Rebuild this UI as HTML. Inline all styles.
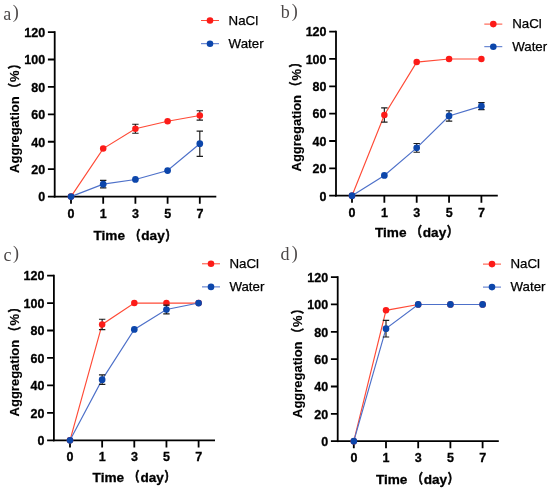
<!DOCTYPE html>
<html><head><meta charset="utf-8"><title>Aggregation</title>
<style>
html,body{margin:0;padding:0;background:#fff;}
svg{display:block;}
text{font-family:"Liberation Sans","Noto Sans CJK SC",sans-serif;fill:#000;stroke:#000;stroke-width:0.3px;}
.tk{font-size:12.5px;font-weight:bold;}
.al{font-size:13.6px;font-weight:bold;}
.yl{font-size:13px;font-weight:bold;stroke-width:0.15px;}
.lg{font-size:13.3px;stroke-width:0.25px;}
.pa{font-family:"Noto Sans CJK SC",sans-serif;font-size:13px;font-weight:bold;stroke-width:0.7px;}
.pl{font-family:"Liberation Serif","Noto Serif CJK SC",serif;font-size:18px;fill:#4c4848;stroke:none;}
.axis{stroke:#000;stroke-width:1.8;fill:none;stroke-linecap:butt;}
.err{stroke:#1c1c1c;stroke-width:1.15;fill:none;}
</style></head><body>
<svg width="550" height="491" viewBox="0 0 550 491">
<rect width="550" height="491" fill="#fff"/>

<g>
<text class="pl" x="3.3" y="19.5">a</text><text class="pl" x="12.7" y="18">)</text>
<path class="axis" d="M54.7 31.2V197.5"/>
<path class="axis" d="M53.8 196.6H216.3"/>
<path class="axis" d="M47.9 196.6H54.7M47.9 169.18H54.7M47.9 141.77H54.7M47.9 114.35H54.7M47.9 86.93H54.7M47.9 59.52H54.7M47.9 32.1H54.7M71 196.6V203.7M103.2 196.6V203.7M135.4 196.6V203.7M167.6 196.6V203.7M199.8 196.6V203.7"/>
<polyline points="71,196.6 103.2,148.62 135.4,128.74 167.6,121.2 199.8,115.45" fill="none" stroke="#ff4a36" stroke-width="1.15"/>
<path class="err" d="M135.4 124.22V133.27M132.2 124.22H138.6M132.2 133.27H138.6"/>
<path class="err" d="M199.8 110.79V120.11M196.6 110.79H203M196.6 120.11H203"/>
<circle cx="71" cy="196.6" r="3.25" fill="#fc1b18"/>
<circle cx="103.2" cy="148.62" r="3.25" fill="#fc1b18"/>
<circle cx="135.4" cy="128.74" r="3.25" fill="#fc1b18"/>
<circle cx="167.6" cy="121.2" r="3.25" fill="#fc1b18"/>
<circle cx="199.8" cy="115.45" r="3.25" fill="#fc1b18"/>
<polyline points="71,196.6 103.2,184.13 135.4,179.46 167.6,170.55 199.8,143.69" fill="none" stroke="#4d70c9" stroke-width="1.15"/>
<path class="err" d="M103.2 180.42V187.83M100 180.42H106.4M100 187.83H106.4"/>
<path class="err" d="M199.8 131.07V156.3M196.6 131.07H203M196.6 156.3H203"/>
<circle cx="71" cy="196.6" r="3.35" fill="#0c46ab"/>
<circle cx="103.2" cy="184.13" r="3.35" fill="#0c46ab"/>
<circle cx="135.4" cy="179.46" r="3.35" fill="#0c46ab"/>
<circle cx="167.6" cy="170.55" r="3.35" fill="#0c46ab"/>
<circle cx="199.8" cy="143.69" r="3.35" fill="#0c46ab"/>
<text class="tk" text-anchor="end" x="45.2" y="201.4">0</text>
<text class="tk" text-anchor="end" x="45.2" y="173.98">20</text>
<text class="tk" text-anchor="end" x="45.2" y="146.57">40</text>
<text class="tk" text-anchor="end" x="45.2" y="119.15">60</text>
<text class="tk" text-anchor="end" x="45.2" y="91.73">80</text>
<text class="tk" text-anchor="end" x="45.2" y="64.32">100</text>
<text class="tk" text-anchor="end" x="45.2" y="36.9">120</text>
<text class="tk" text-anchor="middle" x="71.1" y="217.5">0</text>
<text class="tk" text-anchor="middle" x="103.3" y="217.5">1</text>
<text class="tk" text-anchor="middle" x="135.5" y="217.5">3</text>
<text class="tk" text-anchor="middle" x="167.7" y="217.5">5</text>
<text class="tk" text-anchor="middle" x="199.9" y="217.5">7</text>
<text class="al" x="93.5" y="240.3">Time</text>
<text class="al" x="141.3" y="240.3">day</text>
<text class="pa" transform="translate(138.3 240) scale(0.8 1)" x="-10.4" y="0">（</text>
<text class="pa" transform="translate(167.3 240) scale(0.8 1)" x="-2.4" y="0">）</text>
<g transform="translate(19 172.9) rotate(-90)"><text class="yl" x="0" y="0">Aggregation</text><text class="yl" x="91" y="0">%</text><text class="pa" transform="translate(87.7 -0.3) scale(0.8 1)" x="-10.4" y="0">（</text><text class="pa" transform="translate(105.8 -0.3) scale(0.8 1)" x="-2.4" y="0">）</text></g>
<path d="M201 20.5H219" stroke="#ff4a36" stroke-width="1" fill="none"/>
<circle cx="210" cy="20.5" r="3.3" fill="#fc1b18"/>
<text class="lg" x="228.6" y="24.9">NaCl</text>
<path d="M201 43.7H219" stroke="#4d70c9" stroke-width="1" fill="none"/>
<circle cx="210" cy="43.7" r="3.3" fill="#0c46ab"/>
<text class="lg" x="228.6" y="48.1">Water</text>
</g>
<g>
<text class="pl" x="280.8" y="17.8">b</text><text class="pl" x="291.7" y="17.1">)</text>
<path class="axis" d="M336 30.7V196.6"/>
<path class="axis" d="M335.1 195.7H497.8"/>
<path class="axis" d="M329.2 195.7H336M329.2 168.35H336M329.2 141H336M329.2 113.65H336M329.2 86.3H336M329.2 58.95H336M329.2 31.6H336M352 195.7V202.8M384.35 195.7V202.8M416.7 195.7V202.8M449.05 195.7V202.8M481.4 195.7V202.8"/>
<polyline points="352,195.7 384.35,115.02 416.7,62.1 449.05,58.95 481.4,58.95" fill="none" stroke="#ff4a36" stroke-width="1.15"/>
<path class="err" d="M384.35 107.91V122.13M381.15 107.91H387.55M381.15 122.13H387.55"/>
<circle cx="352" cy="195.7" r="3.25" fill="#fc1b18"/>
<circle cx="384.35" cy="115.02" r="3.25" fill="#fc1b18"/>
<circle cx="416.7" cy="62.1" r="3.25" fill="#fc1b18"/>
<circle cx="449.05" cy="58.95" r="3.25" fill="#fc1b18"/>
<circle cx="481.4" cy="58.95" r="3.25" fill="#fc1b18"/>
<polyline points="352,195.7 384.35,175.46 416.7,147.84 449.05,115.97 481.4,106.13" fill="none" stroke="#4d70c9" stroke-width="1.15"/>
<path class="err" d="M416.7 143.46V152.21M413.5 143.46H419.9M413.5 152.21H419.9"/>
<path class="err" d="M449.05 110.78V121.17M445.85 110.78H452.25M445.85 121.17H452.25"/>
<path class="err" d="M481.4 102.57V109.68M478.2 102.57H484.6M478.2 109.68H484.6"/>
<circle cx="352" cy="195.7" r="3.35" fill="#0c46ab"/>
<circle cx="384.35" cy="175.46" r="3.35" fill="#0c46ab"/>
<circle cx="416.7" cy="147.84" r="3.35" fill="#0c46ab"/>
<circle cx="449.05" cy="115.97" r="3.35" fill="#0c46ab"/>
<circle cx="481.4" cy="106.13" r="3.35" fill="#0c46ab"/>
<text class="tk" text-anchor="end" x="326.5" y="200.5">0</text>
<text class="tk" text-anchor="end" x="326.5" y="173.15">20</text>
<text class="tk" text-anchor="end" x="326.5" y="145.8">40</text>
<text class="tk" text-anchor="end" x="326.5" y="118.45">60</text>
<text class="tk" text-anchor="end" x="326.5" y="91.1">80</text>
<text class="tk" text-anchor="end" x="326.5" y="63.75">100</text>
<text class="tk" text-anchor="end" x="326.5" y="36.4">120</text>
<text class="tk" text-anchor="middle" x="352.1" y="216.6">0</text>
<text class="tk" text-anchor="middle" x="384.45" y="216.6">1</text>
<text class="tk" text-anchor="middle" x="416.8" y="216.6">3</text>
<text class="tk" text-anchor="middle" x="449.15" y="216.6">5</text>
<text class="tk" text-anchor="middle" x="481.5" y="216.6">7</text>
<text class="al" x="375" y="236.6">Time</text>
<text class="al" x="422.8" y="236.6">day</text>
<text class="pa" transform="translate(419.8 236.3) scale(0.8 1)" x="-10.4" y="0">（</text>
<text class="pa" transform="translate(448.8 236.3) scale(0.8 1)" x="-2.4" y="0">）</text>
<g transform="translate(300.7 171.5) rotate(-90)"><text class="yl" x="0" y="0">Aggregation</text><text class="yl" x="91" y="0">%</text><text class="pa" transform="translate(87.7 -0.3) scale(0.8 1)" x="-10.4" y="0">（</text><text class="pa" transform="translate(105.8 -0.3) scale(0.8 1)" x="-2.4" y="0">）</text></g>
<path d="M484.3 24.1H502.3" stroke="#ff4a36" stroke-width="1" fill="none"/>
<circle cx="493.3" cy="24.1" r="3.3" fill="#fc1b18"/>
<text class="lg" x="512.2" y="28.3">NaCl</text>
<path d="M484.3 46.7H502.3" stroke="#4d70c9" stroke-width="1" fill="none"/>
<circle cx="493.3" cy="46.7" r="3.3" fill="#0c46ab"/>
<text class="lg" x="512.2" y="50.9">Water</text>
</g>
<g>
<text class="pl" x="3.6" y="260.9">c</text><text class="pl" x="13.1" y="259">)</text>
<path class="axis" d="M53.9 274.7V441.2"/>
<path class="axis" d="M53 440.3H215"/>
<path class="axis" d="M47.1 440.3H53.9M47.1 412.85H53.9M47.1 385.4H53.9M47.1 357.95H53.9M47.1 330.5H53.9M47.1 303.05H53.9M47.1 275.6H53.9M70 440.3V447.4M102.15 440.3V447.4M134.3 440.3V447.4M166.45 440.3V447.4M198.6 440.3V447.4"/>
<polyline points="70,440.3 102.15,324.46 134.3,303.05 166.45,303.05 198.6,303.05" fill="none" stroke="#ff4a36" stroke-width="1.15"/>
<path class="err" d="M102.15 319.25V329.68M98.95 319.25H105.35M98.95 329.68H105.35"/>
<circle cx="70" cy="440.3" r="3.25" fill="#fc1b18"/>
<circle cx="102.15" cy="324.46" r="3.25" fill="#fc1b18"/>
<circle cx="134.3" cy="303.05" r="3.25" fill="#fc1b18"/>
<circle cx="166.45" cy="303.05" r="3.25" fill="#fc1b18"/>
<circle cx="198.6" cy="303.05" r="3.25" fill="#fc1b18"/>
<polyline points="70,440.3 102.15,379.64 134.3,329.4 166.45,309.5 198.6,303.05" fill="none" stroke="#4d70c9" stroke-width="1.15"/>
<path class="err" d="M102.15 374.83V384.44M98.95 374.83H105.35M98.95 384.44H105.35"/>
<path class="err" d="M166.45 305.11V313.89M163.25 305.11H169.65M163.25 313.89H169.65"/>
<circle cx="70" cy="440.3" r="3.35" fill="#0c46ab"/>
<circle cx="102.15" cy="379.64" r="3.35" fill="#0c46ab"/>
<circle cx="134.3" cy="329.4" r="3.35" fill="#0c46ab"/>
<circle cx="166.45" cy="309.5" r="3.35" fill="#0c46ab"/>
<circle cx="198.6" cy="303.05" r="3.35" fill="#0c46ab"/>
<text class="tk" text-anchor="end" x="44.4" y="445.1">0</text>
<text class="tk" text-anchor="end" x="44.4" y="417.65">20</text>
<text class="tk" text-anchor="end" x="44.4" y="390.2">40</text>
<text class="tk" text-anchor="end" x="44.4" y="362.75">60</text>
<text class="tk" text-anchor="end" x="44.4" y="335.3">80</text>
<text class="tk" text-anchor="end" x="44.4" y="307.85">100</text>
<text class="tk" text-anchor="end" x="44.4" y="280.4">120</text>
<text class="tk" text-anchor="middle" x="70.1" y="461.2">0</text>
<text class="tk" text-anchor="middle" x="102.25" y="461.2">1</text>
<text class="tk" text-anchor="middle" x="134.4" y="461.2">3</text>
<text class="tk" text-anchor="middle" x="166.55" y="461.2">5</text>
<text class="tk" text-anchor="middle" x="198.7" y="461.2">7</text>
<text class="al" x="92.6" y="481.5">Time</text>
<text class="al" x="140.4" y="481.5">day</text>
<text class="pa" transform="translate(137.4 481.2) scale(0.8 1)" x="-10.4" y="0">（</text>
<text class="pa" transform="translate(166.4 481.2) scale(0.8 1)" x="-2.4" y="0">）</text>
<g transform="translate(18.9 416.4) rotate(-90)"><text class="yl" x="0" y="0">Aggregation</text><text class="yl" x="91" y="0">%</text><text class="pa" transform="translate(87.7 -0.3) scale(0.8 1)" x="-10.4" y="0">（</text><text class="pa" transform="translate(105.8 -0.3) scale(0.8 1)" x="-2.4" y="0">）</text></g>
<path d="M202 263.8H220" stroke="#ff4a36" stroke-width="1" fill="none"/>
<circle cx="211" cy="263.8" r="3.3" fill="#fc1b18"/>
<text class="lg" x="229.4" y="267.7">NaCl</text>
<path d="M202 286.9H220" stroke="#4d70c9" stroke-width="1" fill="none"/>
<circle cx="211" cy="286.9" r="3.3" fill="#0c46ab"/>
<text class="lg" x="229.4" y="290.8">Water</text>
</g>
<g>
<text class="pl" x="280.6" y="260">d</text><text class="pl" x="291.7" y="259.1">)</text>
<path class="axis" d="M337.7 276.2V442.1"/>
<path class="axis" d="M336.8 441.2H498.8"/>
<path class="axis" d="M330.9 441.2H337.7M330.9 413.85H337.7M330.9 386.5H337.7M330.9 359.15H337.7M330.9 331.8H337.7M330.9 304.45H337.7M330.9 277.1H337.7M353.8 441.2V448.3M386 441.2V448.3M418.2 441.2V448.3M450.4 441.2V448.3M482.6 441.2V448.3"/>
<polyline points="353.8,441.2 386,310.33 418.2,304.45 450.4,304.45 482.6,304.45" fill="none" stroke="#ff4a36" stroke-width="1.15"/>
<circle cx="353.8" cy="441.2" r="3.25" fill="#fc1b18"/>
<circle cx="386" cy="310.33" r="3.25" fill="#fc1b18"/>
<circle cx="418.2" cy="304.45" r="3.25" fill="#fc1b18"/>
<circle cx="450.4" cy="304.45" r="3.25" fill="#fc1b18"/>
<circle cx="482.6" cy="304.45" r="3.25" fill="#fc1b18"/>
<polyline points="353.8,441.2 386,328.65 418.2,304.45 450.4,304.45 482.6,304.45" fill="none" stroke="#4d70c9" stroke-width="1.15"/>
<path class="err" d="M386 320.31V337M382.8 320.31H389.2M382.8 337H389.2"/>
<circle cx="353.8" cy="441.2" r="3.35" fill="#0c46ab"/>
<circle cx="386" cy="328.65" r="3.35" fill="#0c46ab"/>
<circle cx="418.2" cy="304.45" r="3.35" fill="#0c46ab"/>
<circle cx="450.4" cy="304.45" r="3.35" fill="#0c46ab"/>
<circle cx="482.6" cy="304.45" r="3.35" fill="#0c46ab"/>
<text class="tk" text-anchor="end" x="328.2" y="446">0</text>
<text class="tk" text-anchor="end" x="328.2" y="418.65">20</text>
<text class="tk" text-anchor="end" x="328.2" y="391.3">40</text>
<text class="tk" text-anchor="end" x="328.2" y="363.95">60</text>
<text class="tk" text-anchor="end" x="328.2" y="336.6">80</text>
<text class="tk" text-anchor="end" x="328.2" y="309.25">100</text>
<text class="tk" text-anchor="end" x="328.2" y="281.9">120</text>
<text class="tk" text-anchor="middle" x="353.9" y="462.1">0</text>
<text class="tk" text-anchor="middle" x="386.1" y="462.1">1</text>
<text class="tk" text-anchor="middle" x="418.3" y="462.1">3</text>
<text class="tk" text-anchor="middle" x="450.5" y="462.1">5</text>
<text class="tk" text-anchor="middle" x="482.7" y="462.1">7</text>
<text class="al" x="375.9" y="483.5">Time</text>
<text class="al" x="423.7" y="483.5">day</text>
<text class="pa" transform="translate(420.7 483.2) scale(0.8 1)" x="-10.4" y="0">（</text>
<text class="pa" transform="translate(449.7 483.2) scale(0.8 1)" x="-2.4" y="0">）</text>
<g transform="translate(302 418) rotate(-90)"><text class="yl" x="0" y="0">Aggregation</text><text class="yl" x="91" y="0">%</text><text class="pa" transform="translate(87.7 -0.3) scale(0.8 1)" x="-10.4" y="0">（</text><text class="pa" transform="translate(105.8 -0.3) scale(0.8 1)" x="-2.4" y="0">）</text></g>
<path d="M483 264.1H501" stroke="#ff4a36" stroke-width="1" fill="none"/>
<circle cx="492" cy="264.1" r="3.3" fill="#fc1b18"/>
<text class="lg" x="510.5" y="267.9">NaCl</text>
<path d="M483 287.1H501" stroke="#4d70c9" stroke-width="1" fill="none"/>
<circle cx="492" cy="287.1" r="3.3" fill="#0c46ab"/>
<text class="lg" x="510.5" y="290.9">Water</text>
</g>
</svg>
</body></html>
